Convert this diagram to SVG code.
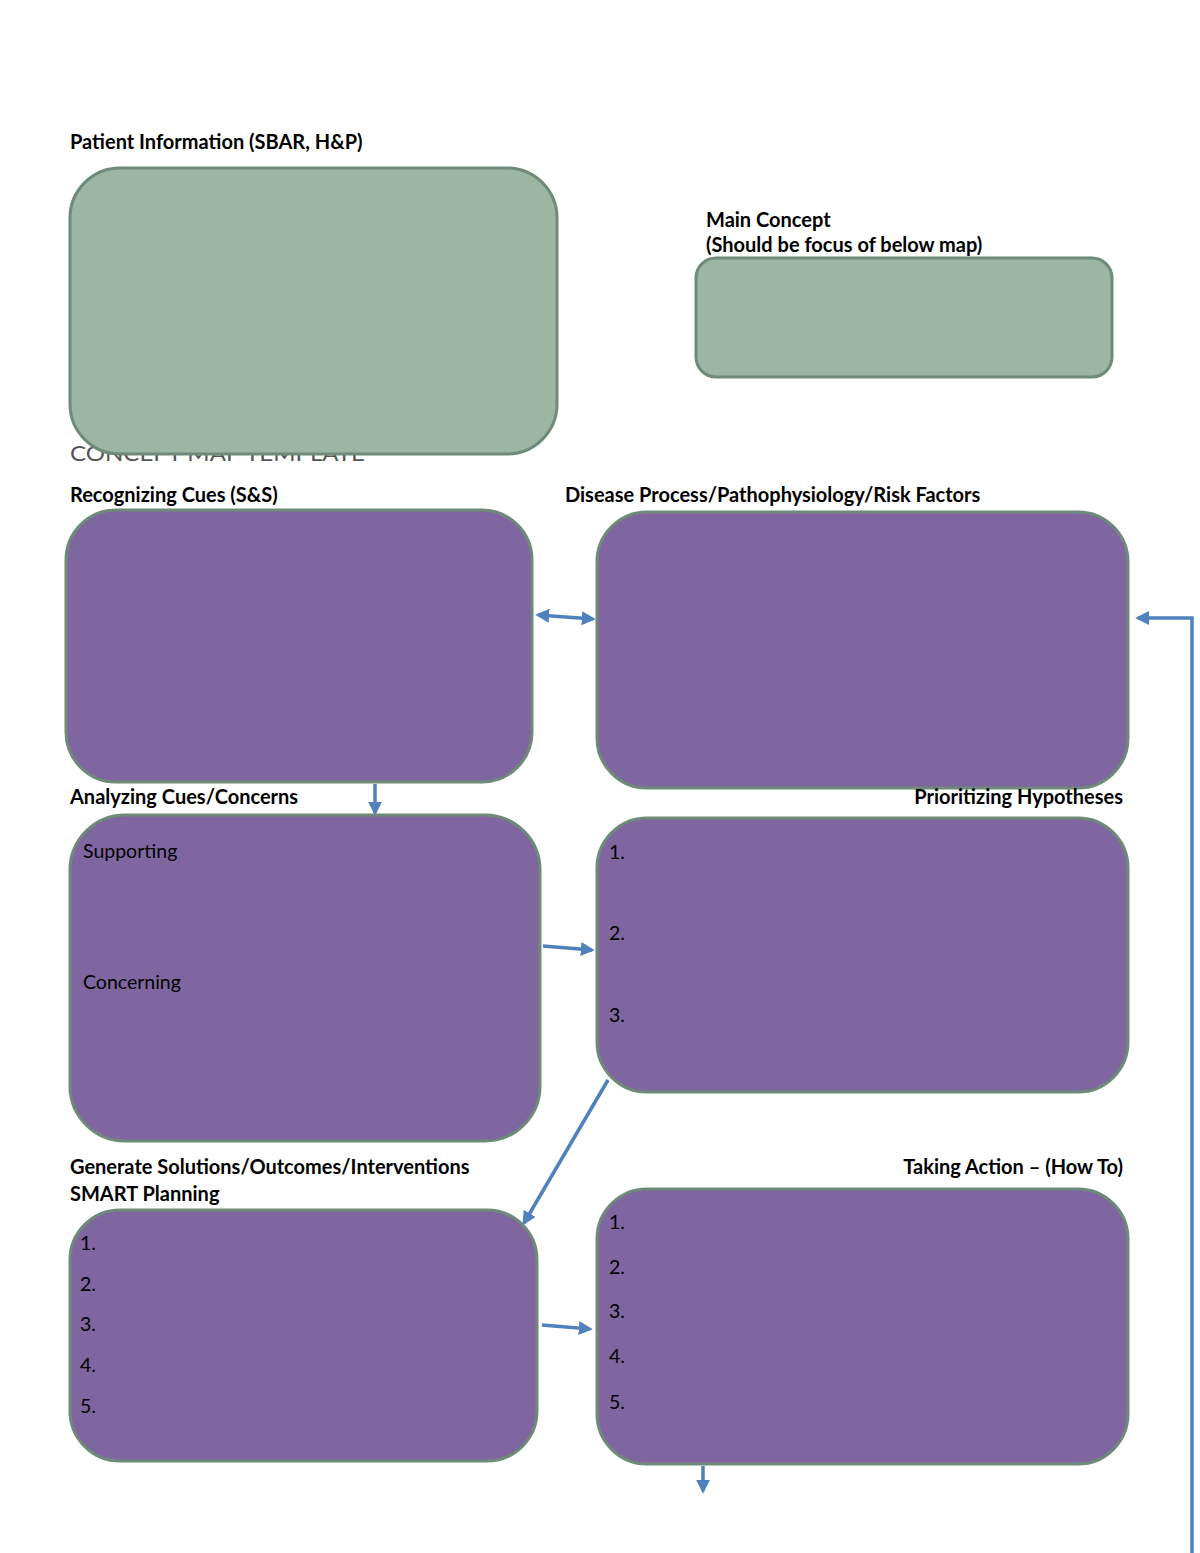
<svg xmlns="http://www.w3.org/2000/svg" width="1200" height="1553" viewBox="0 0 1200 1553">
<style>
.lbl{font-family:Lato,"Liberation Sans",sans-serif;font-weight:bold;font-size:20px;fill:#000}
.in{font-family:Lato,"Liberation Sans",sans-serif;font-size:19.5px;fill:#000}
.green{fill:#9bb7a3;stroke:#6e8a78;stroke-width:3}
.purple{fill:#8066a1;stroke:#6e8a78;stroke-width:3}
.conn{stroke:#4f81bd;stroke-width:3.5;fill:none}
</style>
<defs>
<marker id="ah" viewBox="0 0 10 10" refX="8" refY="5" markerWidth="4" markerHeight="4" orient="auto-start-reverse" markerUnits="strokeWidth">
<path d="M0,0 L10,5 L0,10 z" fill="#4f81bd"/>
</marker>
</defs>
<rect width="1200" height="1553" fill="#fff"/>
<text x="70" y="461" style="font-family:Lato,'Liberation Sans',sans-serif;font-size:21px;fill:#555" textLength="295" lengthAdjust="spacingAndGlyphs">CONCEPT MAP TEMPLATE</text>
<g id="patient-info">
<text class="lbl" x="70" y="149">Patient Information (SBAR, H&amp;P)</text>
<rect class="green" x="70" y="168" width="487" height="286" rx="50"/>
</g>
<g id="main-concept">
<text class="lbl" x="706" y="227">Main Concept</text>
<text class="lbl" x="706" y="252">(Should be focus of below map)</text>
<rect class="green" x="696" y="258" width="416" height="119" rx="20"/>
</g>
<g id="recognizing-cues">
<text class="lbl" x="70" y="502">Recognizing Cues (S&amp;S)</text>
<rect class="purple" x="66" y="510" width="466" height="272" rx="50"/>
</g>
<g id="disease-process">
<text class="lbl" x="565" y="502">Disease Process/Pathophysiology/Risk Factors</text>
<rect class="purple" x="597" y="512" width="531" height="276" rx="50"/>
</g>
<g id="analyzing-cues">
<text class="lbl" x="70" y="804">Analyzing Cues/Concerns</text>
<rect class="purple" x="70" y="815" width="470" height="326" rx="55"/>
<text class="in" x="83" y="858">Supporting</text>
<text class="in" x="83" y="989">Concerning</text>
</g>
<g id="prioritizing-hypotheses">
<text class="lbl" x="1123" y="804" text-anchor="end">Prioritizing Hypotheses</text>
<rect class="purple" x="597" y="818" width="531" height="274" rx="50"/>
<text class="in" x="609" y="859">1.</text>
<text class="in" x="609" y="940">2.</text>
<text class="in" x="609" y="1022">3.</text>
</g>
<g id="generate-solutions">
<text class="lbl" x="70" y="1174">Generate Solutions/Outcomes/Interventions</text>
<text class="lbl" x="70" y="1201">SMART Planning</text>
<rect class="purple" x="70" y="1210" width="467" height="251" rx="50"/>
<text class="in" x="80" y="1250">1.</text>
<text class="in" x="80" y="1291">2.</text>
<text class="in" x="80" y="1331">3.</text>
<text class="in" x="80" y="1372">4.</text>
<text class="in" x="80" y="1413">5.</text>
</g>
<g id="taking-action">
<text class="lbl" x="1123" y="1174" text-anchor="end">Taking Action – (How To)</text>
<rect class="purple" x="597" y="1189" width="531" height="275" rx="50"/>
<text class="in" x="609" y="1229">1.</text>
<text class="in" x="609" y="1274">2.</text>
<text class="in" x="609" y="1318">3.</text>
<text class="in" x="609" y="1363">4.</text>
<text class="in" x="609" y="1409">5.</text>
</g>
<g id="connectors">
<line class="conn" x1="538" y1="615" x2="593" y2="619" marker-start="url(#ah)" marker-end="url(#ah)"/>
<polyline class="conn" points="1192,1553 1192,618 1138,618" marker-end="url(#ah)"/>
<line class="conn" x1="375" y1="784" x2="375" y2="813" marker-end="url(#ah)"/>
<line class="conn" x1="543" y1="946" x2="592" y2="950" marker-end="url(#ah)"/>
<line class="conn" x1="608" y1="1080" x2="524" y2="1223" marker-end="url(#ah)"/>
<line class="conn" x1="542" y1="1325" x2="590" y2="1329" marker-end="url(#ah)"/>
<line class="conn" x1="703" y1="1466" x2="703" y2="1491" marker-end="url(#ah)"/>
</g>
</svg>
